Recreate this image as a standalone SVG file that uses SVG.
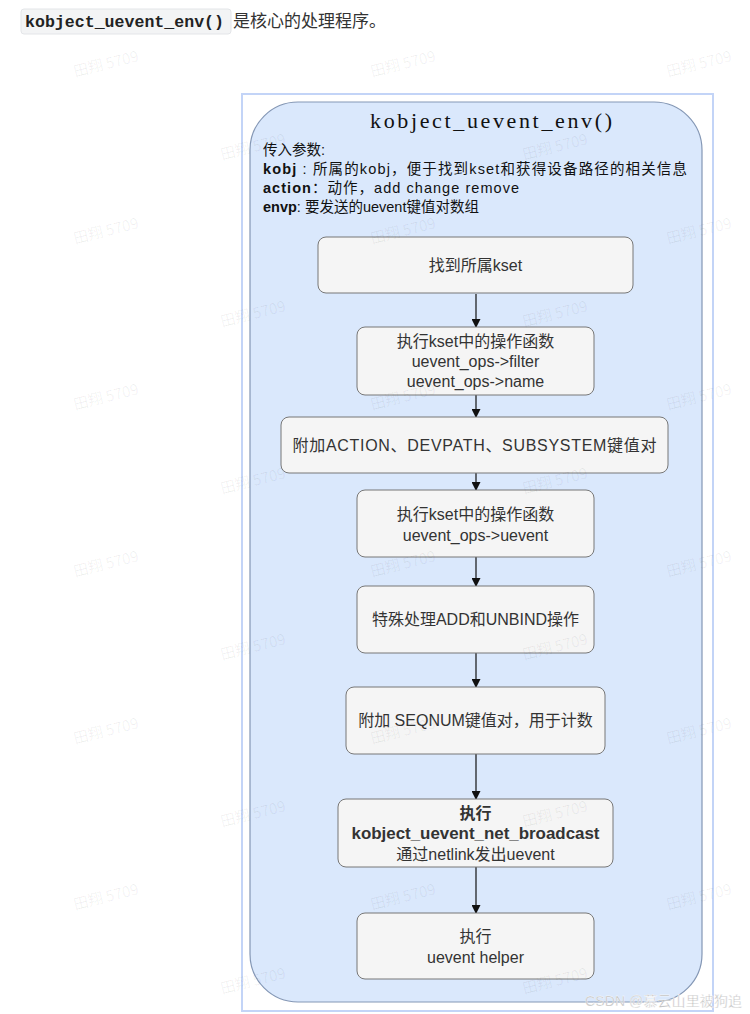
<svg xmlns="http://www.w3.org/2000/svg" width="750" height="1014" viewBox="0 0 750 1014">
<style>
.t{font-family:"Liberation Sans","Noto Sans CJK SC",sans-serif;font-size:16px;fill:#333;text-anchor:middle}
.p{font-family:"Liberation Sans","Noto Sans CJK SC",sans-serif;font-size:14.5px;fill:#111}
.b{font-weight:bold}
.box{fill:#f5f5f5;stroke:#777;stroke-width:1}
.wm{font-family:"Noto Sans CJK SC","Liberation Sans",sans-serif;font-size:15px;fill:#000;fill-opacity:0.06}
.conn line{stroke:#111;stroke-width:1.2}
</style>
<defs>
<marker id="ah" markerWidth="9" markerHeight="9" refX="8" refY="4.5" orient="auto" markerUnits="userSpaceOnUse">
<path d="M0,0 L9,4.5 L0,9 Z" fill="#111"/>
</marker>
</defs>
<rect width="750" height="1014" fill="#fff"/>
<g id="intro">
<rect x="21" y="9" width="210" height="25" rx="3" fill="#f3f4f5" stroke="#e3e5e8"/>
<text x="25" y="27" font-family="Liberation Mono,monospace" font-weight="bold" font-size="16.5" fill="#222" textLength="199" lengthAdjust="spacingAndGlyphs">kobject_uevent_env()</text>
<text x="233" y="27" font-family="Liberation Sans,Noto Sans CJK SC,sans-serif" font-size="17" fill="#333">是核心的处理程序。</text>
</g>
<g id="frame">
<rect x="242" y="94" width="471" height="917" fill="#fff" stroke="#c3d4f7" stroke-width="2"/>
</g>
<g id="container">
<rect x="250" y="102" width="452" height="900" rx="48" ry="48" fill="#dae8fc" stroke="#8497b5" stroke-width="1.2"/>
<text x="491" y="128" font-family="Liberation Serif,serif" font-size="22" fill="#111" text-anchor="middle" textLength="242" lengthAdjust="spacing">kobject_uevent_env()</text>
<text class="p" x="263" y="155">传入参数:</text>
<text class="p" x="263" y="174" textLength="424" lengthAdjust="spacing"><tspan class="b">kobj</tspan> :  所属的kobj，便于找到kset和获得设备路径的相关信息</text>
<text class="p" x="263" y="193" textLength="256" lengthAdjust="spacing"><tspan class="b">action</tspan>：动作，add  change  remove</text>
<text class="p" x="263" y="212"><tspan class="b">envp</tspan>: 要发送的uevent键值对数组</text>
</g>
<g id="conn" class="conn">
<line x1="476" y1="294" x2="476" y2="327" marker-end="url(#ah)"/>
<line x1="476" y1="395" x2="476" y2="417" marker-end="url(#ah)"/>
<line x1="476" y1="473" x2="476" y2="490" marker-end="url(#ah)"/>
<line x1="476" y1="557" x2="476" y2="586" marker-end="url(#ah)"/>
<line x1="476" y1="653" x2="476" y2="687" marker-end="url(#ah)"/>
<line x1="476" y1="754" x2="476" y2="799" marker-end="url(#ah)"/>
<line x1="476" y1="867" x2="476" y2="913" marker-end="url(#ah)"/>
</g>
<g id="n1">
<rect class="box" x="318" y="237" width="315" height="56" rx="8"/>
<text class="t" x="475.5" y="271">找到所属kset</text>
</g>
<g id="n2">
<rect class="box" x="357" y="327" width="237" height="68" rx="8"/>
<text class="t" x="475.5" y="347">执行kset中的操作函数</text>
<text class="t" x="475.5" y="367">uevent_ops-&gt;filter</text>
<text class="t" x="475.5" y="387">uevent_ops-&gt;name</text>
</g>
<g id="n3">
<rect class="box" x="281" y="417" width="387" height="56" rx="8"/>
<text class="t" x="474.5" y="451" textLength="364" lengthAdjust="spacing">附加ACTION、DEVPATH、SUBSYSTEM键值对</text>
</g>
<g id="n4">
<rect class="box" x="357" y="490" width="237" height="67" rx="8"/>
<text class="t" x="475.5" y="520">执行kset中的操作函数</text>
<text class="t" x="475.5" y="541">uevent_ops-&gt;uevent</text>
</g>
<g id="n5">
<rect class="box" x="357" y="586" width="237" height="67" rx="8"/>
<text class="t" x="475.5" y="625">特殊处理ADD和UNBIND操作</text>
</g>
<g id="n6">
<rect class="box" x="346" y="687" width="259" height="67" rx="8"/>
<text class="t" x="475.5" y="726">附加 SEQNUM键值对，用于计数</text>
</g>
<g id="n7">
<rect class="box" x="338" y="799" width="275" height="68" rx="8"/>
<text class="t b" x="475.5" y="819">执行</text>
<text class="t b" x="475.5" y="839" textLength="248" lengthAdjust="spacingAndGlyphs">kobject_uevent_net_broadcast</text>
<text class="t" x="475.5" y="860">通过netlink发出uevent</text>
</g>
<g id="n8">
<rect class="box" x="357" y="913" width="237" height="66" rx="8"/>
<text class="t" x="475.5" y="942">执行</text>
<text class="t" x="475.5" y="963">uevent helper</text>
</g>
<g id="watermarks">
<text class="wm" transform="translate(75,77) rotate(-14)">田翔 5709</text>
<text class="wm" transform="translate(75,244) rotate(-14)">田翔 5709</text>
<text class="wm" transform="translate(75,410) rotate(-14)">田翔 5709</text>
<text class="wm" transform="translate(75,577) rotate(-14)">田翔 5709</text>
<text class="wm" transform="translate(75,744) rotate(-14)">田翔 5709</text>
<text class="wm" transform="translate(75,910) rotate(-14)">田翔 5709</text>
<text class="wm" transform="translate(222,160) rotate(-14)">田翔 5709</text>
<text class="wm" transform="translate(222,327) rotate(-14)">田翔 5709</text>
<text class="wm" transform="translate(222,494) rotate(-14)">田翔 5709</text>
<text class="wm" transform="translate(222,660) rotate(-14)">田翔 5709</text>
<text class="wm" transform="translate(222,827) rotate(-14)">田翔 5709</text>
<text class="wm" transform="translate(222,994) rotate(-14)">田翔 5709</text>
<text class="wm" transform="translate(372,77) rotate(-14)">田翔 5709</text>
<text class="wm" transform="translate(372,244) rotate(-14)">田翔 5709</text>
<text class="wm" transform="translate(372,410) rotate(-14)">田翔 5709</text>
<text class="wm" transform="translate(372,577) rotate(-14)">田翔 5709</text>
<text class="wm" transform="translate(372,744) rotate(-14)">田翔 5709</text>
<text class="wm" transform="translate(372,910) rotate(-14)">田翔 5709</text>
<text class="wm" transform="translate(524,160) rotate(-14)">田翔 5709</text>
<text class="wm" transform="translate(524,327) rotate(-14)">田翔 5709</text>
<text class="wm" transform="translate(524,494) rotate(-14)">田翔 5709</text>
<text class="wm" transform="translate(524,660) rotate(-14)">田翔 5709</text>
<text class="wm" transform="translate(524,827) rotate(-14)">田翔 5709</text>
<text class="wm" transform="translate(524,994) rotate(-14)">田翔 5709</text>
<text class="wm" transform="translate(668,77) rotate(-14)">田翔 5709</text>
<text class="wm" transform="translate(668,244) rotate(-14)">田翔 5709</text>
<text class="wm" transform="translate(668,410) rotate(-14)">田翔 5709</text>
<text class="wm" transform="translate(668,577) rotate(-14)">田翔 5709</text>
<text class="wm" transform="translate(668,744) rotate(-14)">田翔 5709</text>
<text class="wm" transform="translate(668,910) rotate(-14)">田翔 5709</text>
</g>
<g id="csdn">
<text x="585" y="1006" font-family="Liberation Sans,Noto Sans CJK SC,sans-serif" font-size="14" fill="#b8b8b8" stroke="#fff" stroke-width="0.4" textLength="157" lengthAdjust="spacing">CSDN @慕云山里被狗追</text>
</g>
</svg>
